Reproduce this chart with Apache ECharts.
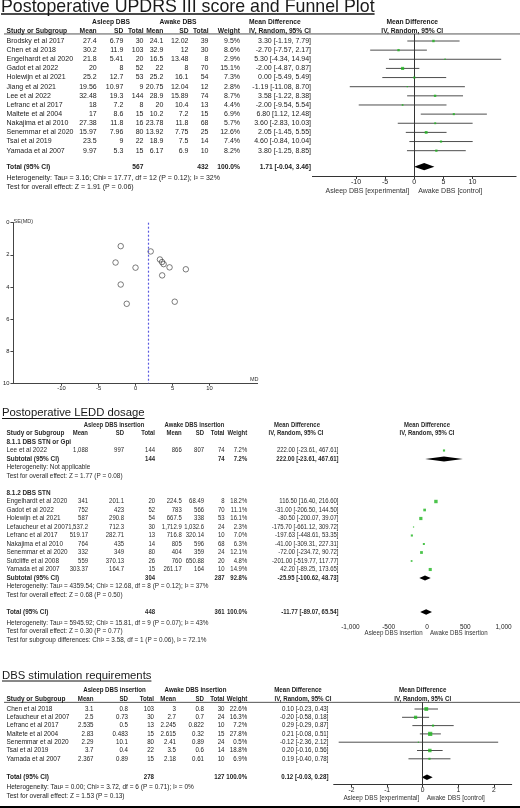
<!DOCTYPE html>
<html><head><meta charset="utf-8">
<script src="https://cdn.jsdelivr.net/npm/echarts@6/dist/echarts.min.js"></script>
<style>html,body{margin:0;padding:0;background:#fff}#c{width:520px;height:808px}</style>
</head><body><div id="c"></div>
<script>
// ================= DATA =================
// --- Postoperative UPDRS III ---
const updrsStudies = ['Brodsky et al 2017','Chen et al 2018','Engelhardt et al 2020','Gadot et al 2022','Holewijn et al 2021','Jiang et al 2021','Lee et al 2022','Lefranc et al 2017','Maltete et al 2004','Nakajima et al 2010','Senemmar et al 2020','Tsai et al 2019','Yamada et al 2007'];
const updrsAsleepMean = [27.4,30.2,21.8,20,25.2,19.56,32.48,18,17,27.38,15.97,23.5,9.97];
const updrsAsleepSD   = [6.79,11.9,5.41,8,12.7,10.97,19.3,7.2,8.6,11.8,7.96,9,5.3];
const updrsAsleepN    = [30,103,20,52,53,9,144,8,15,16,80,22,15];
const updrsAwakeMean  = [24.1,32.9,16.5,22,25.2,20.75,28.9,20,10.2,23.78,13.92,18.9,6.17];
const updrsAwakeSD    = [12.02,12,13.48,8,16.1,12.04,15.89,10.4,7.2,11.8,7.75,7.5,6.9];
const updrsAwakeN     = [39,30,8,70,54,12,74,13,15,68,25,14,10];
const updrsWeight     = [9.5,8.6,2.9,15.1,7.3,2.8,8.7,4.4,6.9,5.7,12.6,7.4,8.2];
const updrsMD = [3.30,-2.70,5.30,-2.00,0.00,-1.19,3.58,-2.00,6.80,3.60,2.05,4.60,3.80];
const updrsLo = [-1.19,-7.57,-4.34,-4.87,-5.49,-11.08,-1.22,-9.54,1.12,-2.83,-1.45,-0.84,-1.25];
const updrsHi = [7.79,2.17,14.94,0.87,5.49,8.70,8.38,5.54,12.48,10.03,5.55,10.04,8.85];
const updrsTotal = [567, 432, 100.0, 1.71, -0.04, 3.46]; // asleepN, awakeN, weight, md, lo, hi
const updrsHet = 'Heterogeneity: Tau\u00b2 = 3.16; Chi\u00b2 = 17.77, df = 12 (P = 0.12); I\u00b2 = 32%';
const updrsTest = 'Test for overall effect: Z = 1.91 (P = 0.06)';
const updrsTicks = [-10,-5,0,5,10];

// --- Funnel plot ---
const funnelMD = [3.30,-2.70,5.30,-2.00,0.00,-1.19,3.58,-2.00,6.80,3.60,2.05,4.60,3.80];
const funnelSE = [2.29,2.48,4.92,1.46,2.80,5.05,2.45,3.85,2.90,3.28,1.79,2.78,2.58];
const funnelPooled = 1.71;
const funnelXTicks = [-10,-5,0,5,10];

// --- Postoperative LEDD dosage ---
const leddGroup   = [1,2,2,2,2,2,2,2,2,2];
const leddStudies = ['Lee et al 2022','Engelhardt et al 2020','Gadot et al 2022','Holewijn et al 2021','Lefaucheur et al 2007','Lefranc et al 2017','Nakajima et al 2010','Senemmar et al 2020','Sutcliffe et al 2008','Yamada et al 2007'];
const leddAsleepMean = [1088,341,752,587,1537.2,519.17,764,332,559,303.37];
const leddAsleepSD   = [997,201.1,423,290.8,712.3,282.71,435,349,370.13,164.7];
const leddAsleepN    = [144,20,52,54,30,13,14,80,26,15];
const leddAwakeMean  = [866,224.5,783,667.5,1712.9,716.8,805,404,760,261.17];
const leddAwakeSD    = [807,68.49,566,338,1032.6,320.14,596,359,650.88,164];
const leddAwakeN     = [74,8,70,53,24,10,68,24,20,10];
const leddWeight     = [7.2,18.2,11.1,16.1,2.3,7.0,6.3,12.1,4.8,14.9];
const leddMD = [222.00,116.50,-31.00,-80.50,-175.70,-197.63,-41.00,-72.00,-201.00,42.20];
const leddLo = [-23.61,16.40,-206.50,-200.07,-661.12,-448.61,-309.31,-234.72,-519.77,-89.25];
const leddHi = [467.61,216.60,144.50,39.07,309.72,53.35,227.31,90.72,117.77,173.65];
const leddSub1  = [144, 74, 7.2, 222.00, -23.61, 467.61];
const leddSub2  = [304, 287, 92.8, -25.95, -100.62, 48.73];
const leddTotal = [448, 361, 100.0, -11.77, -89.07, 65.54];
const leddTexts1 = ['Heterogeneity: Not applicable','Test for overall effect: Z = 1.77 (P = 0.08)'];
const leddTexts2 = ['Heterogeneity: Tau\u00b2 = 4359.54; Chi\u00b2 = 12.68, df = 8 (P = 0.12); I\u00b2 = 37%','Test for overall effect: Z = 0.68 (P = 0.50)'];
const leddTextsT = ['Heterogeneity: Tau\u00b2 = 5945.92; Chi\u00b2 = 15.81, df = 9 (P = 0.07); I\u00b2 = 43%','Test for overall effect: Z = 0.30 (P = 0.77)','Test for subgroup differences: Chi\u00b2 = 3.58, df = 1 (P = 0.06), I\u00b2 = 72.1%'];
const leddTicks = [-1000,-500,0,500,1000];

// --- DBS stimulation requirements ---
const stimStudies = ['Chen et al 2018','Lefaucheur et al 2007','Lefranc et al 2017','Maltete et al 2004','Senemmar et al 2020','Tsai et al 2019','Yamada et al 2007'];
const stimAsleepMean = [3.1,2.5,2.535,2.83,2.29,3.7,2.367];
const stimAsleepSD   = [0.8,0.73,0.5,0.483,10.1,0.4,0.89];
const stimAsleepN    = [103,30,13,15,80,22,15];
const stimAwakeMean  = [3,2.7,2.245,2.615,2.41,3.5,2.18];
const stimAwakeSD    = [0.8,0.7,0.822,0.32,0.89,0.6,0.61];
const stimAwakeN     = [30,24,10,15,24,14,10];
const stimWeight     = [22.6,16.3,7.2,27.8,0.5,18.8,6.9];
const stimMD = [0.10,-0.20,0.29,0.21,-0.12,0.20,0.19];
const stimLo = [-0.23,-0.58,-0.29,-0.08,-2.36,-0.16,-0.40];
const stimHi = [0.43,0.18,0.87,0.51,2.12,0.56,0.78];
const stimTotal = [278, 127, 100.0, 0.12, -0.03, 0.28];
const stimHet = 'Heterogeneity: Tau\u00b2 = 0.00; Chi\u00b2 = 3.72, df = 6 (P = 0.71); I\u00b2 = 0%';
const stimTest = 'Test for overall effect: Z = 1.53 (P = 0.13)';
const stimTicks = [-2,-1,0,1,2];

// ================= LAYOUT =================
const FONT = '"Liberation Sans", Arial, Helvetica, sans-serif';
const TXT = '#1a1a1a';
const GREEN = '#1fb51f';
const G = [];
function txt(s, x, y, o) {
  o = o || {};
  const al = o.align || 'left';
  G.push({type:'text', x:x, y:y, silent:true, z:10, scaleX:o.sx || 1,
    style:{text:String(s), fill:o.color||TXT, font:(o.bold?'bold ':'')+(o.size||7)+'px '+FONT,
      align:al, textAlign:al, verticalAlign:'middle', textVerticalAlign:'middle'}});
}
function hline(x1, x2, y, w, c) {
  G.push({type:'line', silent:true, z:5, shape:{x1:x1,y1:y,x2:x2,y2:y}, style:{stroke:c||'#444', lineWidth:w||1}});
}
const mctx = document.createElement('canvas').getContext('2d');
function tw(s, size, bold) { mctx.font = (bold?'bold ':'')+size+'px '+FONT; return mctx.measureText(s).width; }
function title(s, x, y, size, uy, uw) {
  txt(s, x, y, {size:size});
  hline(x, x + tw(s, size), uy, uw || 1, '#111');
}
function fmt(v) {
  const s = String(v); const p = s.split('.');
  const i = p[0].replace(/\B(?=(\d{3})+(?!\d))/g, ',');
  return p.length > 1 ? i + '.' + p[1] : i;
}
function ci(m, l, h) { return m.toFixed(2) + ' [' + l.toFixed(2) + ', ' + h.toFixed(2) + ']'; }
function pct(w) { return w.toFixed(1) + '%'; }

const SEC_U = {y0:41, step:9.14, ymin:-0.77, ymax:14.77, xmin:-17.5, xmax:17.5, left:312.4, width:203.7};
const SEC_L = {y0:442, step:8.5, ymin:-1, ymax:21.06, xmin:-1000, xmax:1000, left:350.4, width:153.2};
const SEC_S = {y0:709, step:8.3, ymin:-0.8, ymax:9.04, xmin:-2.5, xmax:2.5, left:333.7, width:178};
function ry(sec, r) { return sec.y0 + r * sec.step; }
function zx(sec) { return sec.left + (0 - sec.xmin) / (sec.xmax - sec.xmin) * sec.width; }
function gridOf(sec) { return {left:sec.left, width:sec.width, top:ry(sec, sec.ymin), height:(sec.ymax - sec.ymin) * sec.step, containLabel:false}; }

function ext(a, b) { const o = {}; for (const k in a) o[k] = a[k]; for (const k in b) o[k] = b[k]; return o; }
// st: style for numeric/centred cells; sl: style for left-aligned text
function studyRows(sec, cols, st, sl, names, am, asd, an, wm, wsd, wn, wt, md, lo, hi, rows) {
  const r = ext(st, {align:'right'});
  names.forEach(function (s, i) {
    const y = ry(sec, rows[i]);
    txt(s, cols.name, y, sl);
    txt(fmt(am[i]), cols.am, y, r);
    txt(fmt(asd[i]), cols.asd, y, r);
    txt(fmt(an[i]), cols.an, y, r);
    txt(fmt(wm[i]), cols.wm, y, r);
    txt(fmt(wsd[i]), cols.wsd, y, r);
    txt(fmt(wn[i]), cols.wn, y, r);
    txt(pct(wt[i]), cols.wt, y, r);
    txt(ci(md[i], lo[i], hi[i]), cols.ci, y, r);
  });
}
function sumRow(sec, cols, st, sl, label, r, arr) {
  const y = ry(sec, r);
  const b = ext(st, {bold:true, align:'right'});
  txt(label, cols.name, y, ext(sl, {bold:true}));
  txt(arr[0], cols.an, y, b); txt(arr[1], cols.wn, y, b);
  txt(pct(arr[2]), cols.wt, y, b); txt(ci(arr[3], arr[4], arr[5]), cols.ci, y, b);
}
function header2(sec, cols, st, sl, r, ciX, ciAlign) {
  const y = ry(sec, r); const b = ext(st, {bold:true, align:'right'});
  txt('Study or Subgroup', cols.name, y, ext(sl, {bold:true}));
  txt('Mean', cols.am, y, b); txt('SD', cols.asd, y, b); txt('Total', cols.an, y, b);
  txt('Mean', cols.wm, y, b); txt('SD', cols.wsd, y, b); txt('Total', cols.wn, y, b);
  txt('Weight', cols.wt, y, b);
  txt('IV, Random, 95% CI', ciX, y, ext(st, {bold:true, align:ciAlign}));
}

// ---------- Section 1: UPDRS ----------
title('Postoperative UPDRS III score and Funnel Plot', 1, 6.8, 17.8, 14, 1.3);
const cU = {name:6.5, am:96.7, asd:123.3, an:143.5, wm:163.3, wsd:188.5, wn:208.5, wt:240, ci:311};
const stU = {size:7, color:TXT}, hU = {size:6.7, color:TXT};
txt('Asleep DBS', 111, ry(SEC_U, -2.08), ext(hU, {bold:true, align:'center'}));
txt('Awake DBS', 178, ry(SEC_U, -2.08), ext(hU, {bold:true, align:'center'}));
txt('Mean Difference', 249, ry(SEC_U, -2.08), ext(hU, {bold:true}));
txt('Mean Difference', zx(SEC_U) - 2, ry(SEC_U, -2.08), ext(hU, {bold:true, align:'center'}));
header2(SEC_U, cU, hU, hU, -1.1, 249, 'left');
txt('IV, Random, 95% CI', zx(SEC_U) - 2, ry(SEC_U, -1.1), ext(hU, {bold:true, align:'center'}));
hline(4, 520, ry(SEC_U, -0.77), 1, '#555');
const uRows = updrsStudies.map(function (s, i) { return i; });
studyRows(SEC_U, cU, stU, stU, updrsStudies, updrsAsleepMean, updrsAsleepSD, updrsAsleepN, updrsAwakeMean, updrsAwakeSD, updrsAwakeN, updrsWeight, updrsMD, updrsLo, updrsHi, uRows);
const uTotRow = updrsStudies.length + 0.75;
sumRow(SEC_U, cU, hU, hU, 'Total (95% CI)', uTotRow, updrsTotal);
txt(updrsHet, cU.name, ry(SEC_U, uTotRow + 1.2), stU);
txt(updrsTest, cU.name, ry(SEC_U, uTotRow + 2.22), stU);
txt('Asleep DBS [experimental]', zx(SEC_U) - 5, 190.7, {size:7, align:'right', color:'#333'});
txt('Awake DBS [control]', zx(SEC_U) + 4, 190.7, {size:7, color:'#333'});

// ---------- Funnel ----------
const FUN = {left:11, top:222.7, width:246.6, height:160.6};
txt('SE(MD)', 13.5, 221, {size:5.5, color:'#333'});
txt('MD', 250, 379, {size:5.5, color:'#333'});

// ---------- Section 2: LEDD ----------
title('Postoperative LEDD dosage', 2, 413, 11.3, 418.5, 1);
const cL = {name:6.5, am:88, asd:124, an:155, wm:181.7, wsd:204, wn:224.5, wt:247.2, ci:338.5};
const stL = {size:6.7, color:'#2a2a2a', sx:0.89};
const slL = {size:6.4, color:'#2a2a2a'};
txt('Asleep DBS insertion', 114, ry(SEC_L, -2), ext(stL, {bold:true, align:'center'}));
txt('Awake DBS insertion', 194.5, ry(SEC_L, -2), ext(stL, {bold:true, align:'center'}));
txt('Mean Difference', 297, ry(SEC_L, -2), ext(stL, {bold:true, align:'center'}));
header2(SEC_L, cL, stL, slL, -1, 296, 'center');
txt('Mean Difference', zx(SEC_L), ry(SEC_L, -2), ext(stL, {bold:true, align:'center'}));
txt('IV, Random, 95% CI', zx(SEC_L), ry(SEC_L, -1), ext(stL, {bold:true, align:'center'}));
txt('8.1.1 DBS STN or Gpi', cL.name, ry(SEC_L, 0), ext(slL, {bold:true}));
let g2 = 0;
const lRows = leddGroup.map(function (g) { if (g === 1) return 1; g2++; return 6 + g2; });
studyRows(SEC_L, cL, stL, slL, leddStudies, leddAsleepMean, leddAsleepSD, leddAsleepN, leddAwakeMean, leddAwakeSD, leddAwakeN, leddWeight, leddMD, leddLo, leddHi, lRows);
sumRow(SEC_L, cL, stL, slL, 'Subtotal (95% CI)', 2, leddSub1);
txt(leddTexts1[0], cL.name, ry(SEC_L, 3), slL);
txt(leddTexts1[1], cL.name, ry(SEC_L, 4), slL);
txt('8.1.2 DBS STN', cL.name, ry(SEC_L, 6), ext(slL, {bold:true}));
const lSub2Row = 7 + g2;
sumRow(SEC_L, cL, stL, slL, 'Subtotal (95% CI)', lSub2Row, leddSub2);
txt(leddTexts2[0], cL.name, ry(SEC_L, lSub2Row + 1), slL);
txt(leddTexts2[1], cL.name, ry(SEC_L, lSub2Row + 2), slL);
const lTotRow = lSub2Row + 4;
sumRow(SEC_L, cL, stL, slL, 'Total (95% CI)', lTotRow, leddTotal);
leddTextsT.forEach(function (t, k) { txt(t, cL.name, ry(SEC_L, lTotRow + 1.3 + k), slL); });
txt('Asleep DBS insertion', zx(SEC_L) - 4.3, 633.3, {size:6.7, sx:0.92, align:'right', color:'#333'});
txt('Awake DBS insertion', zx(SEC_L) + 3, 633.3, {size:6.7, sx:0.92, color:'#333'});

// ---------- Section 3: DBS stimulation ----------
title('DBS stimulation requirements', 2, 676, 11.3, 681, 1);
const cS = {name:6.5, am:93.5, asd:128, an:154, wm:176, wsd:204, wn:224.5, wt:247.2, ci:328.5};
const stS = {size:6.7, color:TXT, sx:0.92};
const slS = {size:6.5, color:TXT};
txt('Asleep DBS insertion', 114.5, ry(SEC_S, -2.29), ext(stS, {bold:true, align:'center'}));
txt('Awake DBS insertion', 195.5, ry(SEC_S, -2.29), ext(stS, {bold:true, align:'center'}));
txt('Mean Difference', 298, ry(SEC_S, -2.29), ext(stS, {bold:true, align:'center'}));
header2(SEC_S, cS, stS, slS, -1.24, 303, 'center');
txt('Mean Difference', zx(SEC_S), ry(SEC_S, -2.29), ext(stS, {bold:true, align:'center'}));
txt('IV, Random, 95% CI', zx(SEC_S), ry(SEC_S, -1.24), ext(stS, {bold:true, align:'center'}));
hline(4, 520, ry(SEC_S, -0.8), 1, '#555');
const sRows = stimStudies.map(function (s, i) { return i; });
studyRows(SEC_S, cS, stS, slS, stimStudies, stimAsleepMean, stimAsleepSD, stimAsleepN, stimAwakeMean, stimAwakeSD, stimAwakeN, stimWeight, stimMD, stimLo, stimHi, sRows);
const sTotRow = stimStudies.length + 1.23;
sumRow(SEC_S, cS, stS, slS, 'Total (95% CI)', sTotRow, stimTotal);
txt(stimHet, cS.name, ry(SEC_S, sTotRow + 1.2), slS);
txt(stimTest, cS.name, ry(SEC_S, sTotRow + 2.25), slS);
txt('Asleep DBS [experimental]', zx(SEC_S) - 3.4, 797.7, {size:6.7, sx:0.95, align:'right', color:'#333'});
txt('Awake DBS [control]', zx(SEC_S) + 4, 797.7, {size:6.7, sx:0.95, color:'#333'});
hline(0, 520, 807, 2.2, '#000');

// ================= SERIES =================
function ciSeries(axis, lo, hi, rows) {
  return {type:'custom', xAxisIndex:axis, yAxisIndex:axis, silent:true, z:3,
    data: lo.map(function (l, i) { return [l, hi[i], rows[i]]; }),
    renderItem: function (p, api) {
      const a = api.coord([api.value(0), api.value(2)]);
      const b = api.coord([api.value(1), api.value(2)]);
      return {type:'line', shape:{x1:a[0], y1:a[1], x2:b[0], y2:b[1]}, style:{stroke:'#3a3a3a', lineWidth:0.9}};
    }};
}
function diamondSeries(axis, items) {
  return {type:'custom', xAxisIndex:axis, yAxisIndex:axis, silent:true, z:4,
    data: items,
    renderItem: function (p, api) {
      const m = api.coord([api.value(0), api.value(3)]);
      const l = api.coord([api.value(1), api.value(3)]);
      const h = api.coord([api.value(2), api.value(3)]);
      const hh = api.value(4);
      return {type:'polygon', shape:{points:[[l[0], m[1]], [m[0], m[1] - hh], [h[0], m[1]], [m[0], m[1] + hh]]}, style:{fill:'#000'}};
    }};
}
function squareSeries(axis, md, rows, wt, zeroLine) {
  const s = {type:'scatter', xAxisIndex:axis, yAxisIndex:axis, silent:true, z:5, symbol:'rect',
    data: md.map(function (m, i) { return [m, rows[i], wt[i]]; }),
    symbolSize: function (v) { return Math.max(1.2, 0.8 * Math.sqrt(v[2])); },
    itemStyle:{color:GREEN}};
  if (zeroLine) s.markLine = {silent:true, symbol:['none','none'], label:{show:false}, animation:false,
    lineStyle:{type:'solid', color:'#333', width:1}, data:[{xAxis:0}]};
  return s;
}
function forestX(sec, ticks, grid, showLine, margin, size) {
  return {type:'value', gridIndex:grid, min:sec.xmin, max:sec.xmax,
    axisLine:{show:showLine, onZero:false, lineStyle:{color:'#333', width:1}},
    axisTick:{show:showLine, length:3, customValues:ticks, lineStyle:{color:'#333'}},
    axisLabel:{customValues:ticks, fontSize:size, color:'#222', margin:margin, fontFamily:FONT},
    splitLine:{show:false}};
}
function forestY(sec, grid) {
  return {type:'value', gridIndex:grid, min:sec.ymin, max:sec.ymax, inverse:true, show:false,
    axisLine:{onZero:false}, splitLine:{show:false}};
}

const option = {
  animation:false,
  backgroundColor:'#fff',
  grid:[gridOf(SEC_U), FUN, gridOf(SEC_L), gridOf(SEC_S)],
  xAxis:[
    forestX(SEC_U, updrsTicks, 0, true, 3, 7),
    {type:'value', gridIndex:1, min:-16.5, max:16.5,
      axisLine:{onZero:false, lineStyle:{color:'#444'}},
      axisTick:{length:2.5, customValues:funnelXTicks, lineStyle:{color:'#444'}},
      axisLabel:{customValues:funnelXTicks, fontSize:5.8, color:'#222', margin:2, fontFamily:FONT},
      splitLine:{show:false}},
    forestX(SEC_L, leddTicks, 2, false, 2.3, 6.5),
    forestX(SEC_S, stimTicks, 3, true, 2.2, 6.7)
  ],
  yAxis:[
    forestY(SEC_U, 0),
    {type:'value', gridIndex:1, min:0, max:10, interval:2, inverse:true,
      axisLine:{show:true, onZero:false, lineStyle:{color:'#444'}},
      axisTick:{show:true, length:3, lineStyle:{color:'#444'}},
      axisLabel:{fontSize:5.8, color:'#222', margin:4, fontFamily:FONT},
      splitLine:{show:false}},
    forestY(SEC_L, 2),
    forestY(SEC_S, 3)
  ],
  series:[
    ciSeries(0, updrsLo, updrsHi, uRows),
    squareSeries(0, updrsMD, uRows, updrsWeight, true),
    diamondSeries(0, [[updrsTotal[3], updrsTotal[4], updrsTotal[5], uTotRow, 3.6]]),
    {type:'scatter', xAxisIndex:1, yAxisIndex:1, silent:true, symbol:'circle', symbolSize:5.5,
      data: funnelMD.map(function (m, i) { return [m, funnelSE[i]]; }),
      itemStyle:{color:'rgba(255,255,255,0)', borderColor:'#333', borderWidth:0.8},
      markLine:{silent:true, symbol:['none','none'], label:{show:false}, animation:false,
        lineStyle:{type:[2,2], color:'#5a5ae0', width:1.2}, data:[{xAxis:funnelPooled}]}},
    squareSeries(2, leddMD, lRows, leddWeight, false),
    diamondSeries(2, [
      [leddSub1[3], leddSub1[4], leddSub1[5], 2, 2.6],
      [leddSub2[3], leddSub2[4], leddSub2[5], lSub2Row, 2.6],
      [leddTotal[3], leddTotal[4], leddTotal[5], lTotRow, 2.8]]),
    ciSeries(3, stimLo, stimHi, sRows),
    squareSeries(3, stimMD, sRows, stimWeight, true),
    diamondSeries(3, [[stimTotal[3], stimTotal[4], stimTotal[5], sTotRow, 2.8]])
  ],
  graphic:{elements:G}
};
const chart = echarts.init(document.getElementById('c'), null, {width:520, height:808});
chart.setOption(option);
</script></body></html>
